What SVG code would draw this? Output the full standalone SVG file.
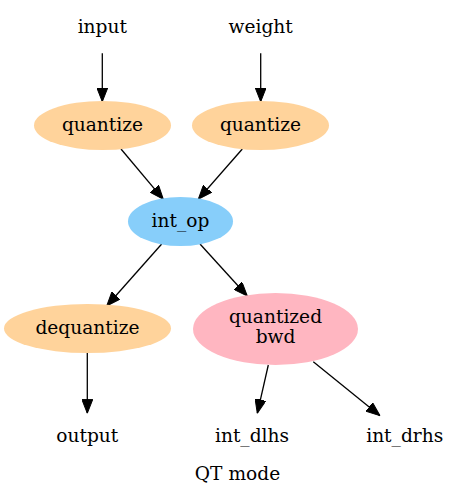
<svg xmlns="http://www.w3.org/2000/svg" width="475" height="497" viewBox="0 0 475 497">
<style>
text{font-family:"DejaVu Serif","Liberation Serif",serif;font-size:18.6px;fill:#000;text-anchor:middle}
.q{fill:#ffd39b}
.e{stroke:#000;stroke-width:1.3;fill:none;marker-end:url(#ah)}
</style>
<defs>
<marker id="ah" markerUnits="userSpaceOnUse" viewBox="0 0 14 11" refX="14" refY="5.5" markerWidth="14" markerHeight="11" orient="auto">
<path d="M0,0 L14,5.5 L0,11 Z" fill="#000" stroke="#000" stroke-width="1"/>
</marker>
</defs>
<rect width="475" height="497" fill="#fff"/>
<g id="connectors">
<path class="e" d="M102.3,53.3 L102.3,101.7"/>
<path class="e" d="M260.7,53.3 L260.7,101.7"/>
<path class="e" d="M121,149 L163.3,199.3"/>
<path class="e" d="M242.3,149 L198.3,199.3"/>
<path class="e" d="M161.7,244 L106.7,306"/>
<path class="e" d="M200,244 L247.3,296"/>
<path class="e" d="M87.3,353 L87.3,413.3"/>
<path class="e" d="M268.3,365 L257.3,413.3"/>
<path class="e" d="M313.3,361.7 L380,415.7"/>
</g>
<g id="input"><text x="102.3" y="33.3">input</text></g>
<g id="weight"><text x="260.7" y="33.3">weight</text></g>
<g id="quantize1"><ellipse class="q" cx="102.5" cy="125.5" rx="68.5" ry="24.5"/><text x="102.5" y="131">quantize</text></g>
<g id="quantize2"><ellipse class="q" cx="260.5" cy="125.5" rx="68.5" ry="24.5"/><text x="260.5" y="131">quantize</text></g>
<g id="int_op"><ellipse cx="180.5" cy="221.5" rx="52.5" ry="24.5" fill="#87cefa"/><text x="180.5" y="226.5">int_op</text></g>
<g id="dequantize"><ellipse class="q" cx="87.5" cy="328.5" rx="83.5" ry="24.5"/><text x="87.5" y="333.5">dequantize</text></g>
<g id="quantized_bwd"><ellipse cx="275.5" cy="329" rx="82.5" ry="36" fill="#ffb6c1"/><text x="275.5" y="323.3">quantized</text><text x="275.5" y="343.3">bwd</text></g>
<g id="output"><text x="87.3" y="441.7">output</text></g>
<g id="int_dlhs"><text x="252" y="441.7">int_dlhs</text></g>
<g id="int_drhs"><text x="404.7" y="441.7">int_drhs</text></g>
<g id="label"><text x="237.5" y="480">QT mode</text></g>
</svg>
